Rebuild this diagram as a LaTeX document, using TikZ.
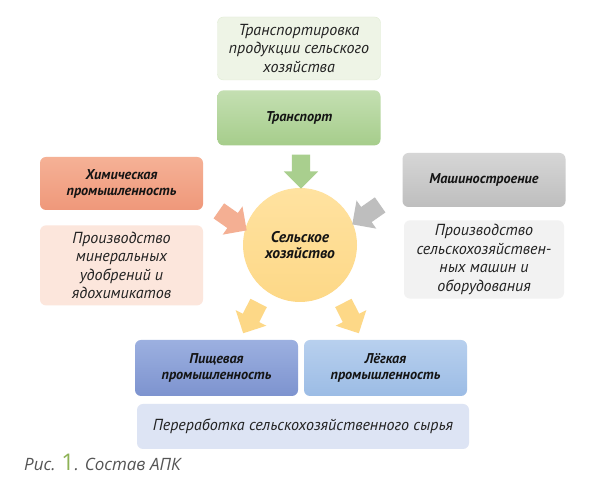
\documentclass[tikz,border=0pt]{standalone}
\usepackage{fontspec}
\setmainfont{PT Sans}
\newfontfamily\capfont{Open Sans}
\usepackage{tikz}
\usetikzlibrary{positioning,shapes.arrows}
\definecolor{apkgreenlight}{HTML}{EEF4E6}
\definecolor{apkgreentop}{HTML}{C4DFB2}
\definecolor{apkgreenbot}{HTML}{A6CD8B}
\definecolor{apkgreenarrow}{HTML}{A9CF8E}
\definecolor{apksun}{HTML}{FDD887}
\definecolor{apksuntop}{HTML}{FFE2A0}
\definecolor{apksalmontop}{HTML}{F5B196}
\definecolor{apksalmonbot}{HTML}{EF987A}
\definecolor{apksalmonlight}{HTML}{FCE6DC}
\definecolor{apkgreytop}{HTML}{D6D6D6}
\definecolor{apkgreybot}{HTML}{BEBEBE}
\definecolor{apkgreylight}{HTML}{F2F2F2}
\definecolor{apkbluetop}{HTML}{9CB0E0}
\definecolor{apkbluebot}{HTML}{7D93CF}
\definecolor{apkskytop}{HTML}{B8D0EE}
\definecolor{apkskybot}{HTML}{9CBCE5}
\definecolor{apkbluelight}{HTML}{DDE4F4}
\definecolor{apktext}{HTML}{141414}
\definecolor{apkdesctext}{HTML}{222222}
\definecolor{apkcaption}{HTML}{555555}
\definecolor{apkcapgreen}{HTML}{8DB255}
\tikzset{
  apkbox/.style={rounded corners=6pt, minimum width=163pt, align=center,
    inner sep=4pt, text=apktext},
  apkhead/.style={apkbox, minimum height=55pt,
    font=\fontsize{14.2}{16}\selectfont\bfseries\itshape},
  apkdesc/.style={apkbox, text=apkdesctext, font=\fontsize{16}{18.5}\selectfont\itshape},
  apkarrow/.style={single arrow, draw=none, inner sep=9pt, minimum height=34pt,
    single arrow head extend=8pt}
}
\begin{document}
\begin{tikzpicture}[x=1pt,y=1pt]
  \useasboundingbox[fill=white] (0,0) rectangle (604,486);
  % top: transport
  \node[apkdesc, fill=apkgreenlight, draw=apkgreenlight!80!apkgreenbot,
    minimum height=63pt] (transdesc) at (299,437.5) {Транспортировка\\продукции сельского\\хозяйства};
  \node[apkhead, top color=apkgreentop, bottom color=apkgreenbot,
    below=10pt of transdesc] (trans) {Транспорт};
  % centre
  \node[circle, minimum size=114pt, top color=apksuntop, bottom color=apksun,
    font=\fontsize{15.5}{16.5}\selectfont\bfseries\itshape, text=apktext,
    align=center] (agro) at (300,241) {Сельское\\хозяйство};
  \node[apkarrow, fill=apkgreenarrow, rotate=-90] (transarr) at (301,319) {};
  % left: chemistry
  \node[apkhead, top color=apksalmontop, bottom color=apksalmonbot,
    minimum height=53pt] (chem) at (121.5,302.5) {Химическая\\промышленность};
  \node[apkdesc, fill=apksalmonlight, minimum height=80pt,
    below=15pt of chem] (chemdesc) {Производство\\минеральных\\удобрений и\\ядохимикатов};
  \node[apkarrow, fill=apksalmontop!90!apksalmonbot, rotate=-35] (chemarr) at (229,268) {};
  % right: machinery
  \node[apkhead, top color=apkgreytop, bottom color=apkgreybot,
    minimum height=54pt] (mach) at (484,306) {Машиностроение};
  \node[apkdesc, fill=apkgreylight, minimum height=78pt, minimum width=160pt,
    below=13pt of mach] (machdesc) {Производство\\сельскохозяйствен-\\ных машин и\\оборудования};
  \node[apkarrow, fill=apkgreybot, rotate=215] (macharr) at (370,274) {};
  % bottom: processing
  \node[apkarrow, fill=apksun, rotate=243] (foodarr) at (253,172) {};
  \node[apkarrow, fill=apksun, rotate=297] (lightarr) at (349,172) {};
  \node[apkhead, top color=apkbluetop, bottom color=apkbluebot,
    minimum height=56pt] (food) at (216.5,118) {Пищевая\\промышленность};
  \node[apkhead, top color=apkskytop, bottom color=apkskybot,
    minimum height=56pt] (light) at (385.5,118) {Лёгкая\\промышленность};
  \node[apkdesc, fill=apkbluelight, minimum width=332pt, minimum height=45pt]
    (raw) at (303,59.5) {Переработка сельскохозяйственного сырья};
  % caption
  \node[anchor=west, inner sep=0pt, text=apkcaption,
    font=\capfont\fontsize{17}{19}\selectfont\itshape] (cap) at (24,24)
    {Рис. {\color{apkcapgreen}\upshape\fontsize{23}{23}\selectfont 1}. Состав АПК};
\end{tikzpicture}
\end{document}
